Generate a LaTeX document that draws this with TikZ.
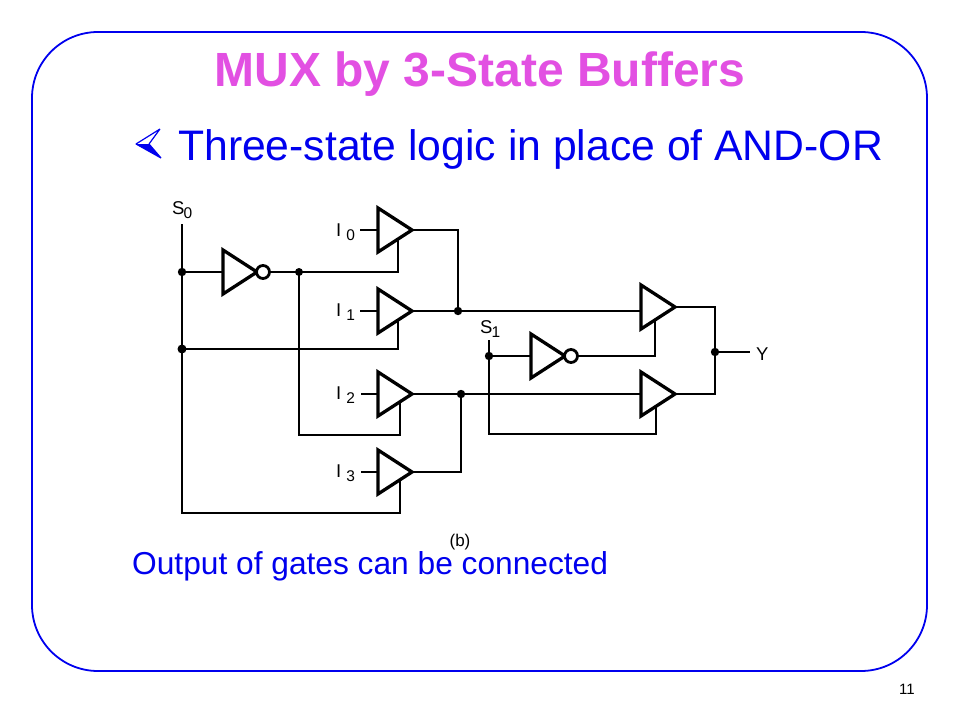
\documentclass[tikz,border=0pt]{standalone}
\usepackage{fontspec}
\setmainfont{Liberation Sans}
\usetikzlibrary{calc}
\definecolor{slideblue}{RGB}{0,0,238}
\definecolor{titlepink}{RGB}{226,80,226}
\tikzset{
  wire/.style={line width=2.1pt},
  gate/.style={line width=3.3pt,line join=miter,fill=white},
  bubble/.style={line width=2.8pt,fill=white},
  dot/.style={fill=black},
  sig/.style={font=\fontsize{18.5}{22}\selectfont,anchor=base west,inner sep=0pt},
  slide/.style={anchor=base west,inner sep=0pt,text=slideblue}
}
% left-middle corner of a gate is #1, its tip is (#1t), its control pin (#1c), #4 = pin offset
\newcommand{\bufgate}[4]{
  \coordinate (#1) at (#2,#3);
  \coordinate (#1t) at (#2+34,#3);
  \coordinate (#1c) at (#2+#4,#3+22-#4*0.647);
  \draw[gate] ($(#1)+(0,-22)$)--(#1t)--($(#1)+(0,22)$)--cycle;
}
\newcommand{\subsig}[1]{\raisebox{-4.5pt}{\fontsize{15.5}{18}\selectfont #1}}
\begin{document}
\begin{tikzpicture}[x=1pt,y=-1pt]
\useasboundingbox (0,0) rectangle (960,720);
\draw[slideblue,line width=1.8pt,rounded corners=66pt] (32,32) rectangle (927,671);
% text
\node[slide,anchor=base,text=titlepink,font=\fontsize{48}{56}\selectfont\bfseries] (title) at (480,86) {MUX by 3-State Buffers};
\node[slide,font=\fontsize{42.7}{50}\selectfont] (head) at (178,160) {Three-state logic in place of AND-OR};
\node[slide,font=\fontsize{31.7}{36}\selectfont] (note) at (132,574) {Output of gates can be connected};
\node[anchor=base,inner sep=0pt,font=\fontsize{17}{20}\selectfont] (bl) at (460,546) {(b)};
\node[anchor=base,inner sep=0pt,font=\fontsize{15}{18}\selectfont] (page) at (907,694) {11};
\coordinate (Ha) at (136,144);
\coordinate (Hb) at (160,129);
\coordinate (Hc) at (149,144);
\coordinate (Hd) at (161,158);
\fill[slideblue] (Ha)--(Hc)--(Hd)--cycle;
\draw[slideblue,line width=1.2pt,line join=bevel] (Ha)--(Hb)--(Hc)--(Hd)--cycle;
% gates
\bufgate{G0}{378}{230}{20}
\bufgate{G1}{378}{311}{20}
\bufgate{G2}{378}{394}{22}
\bufgate{G3}{378}{472}{22}
\bufgate{GA}{641}{307}{14}
\bufgate{GB}{641}{394}{15}
\bufgate{N0}{223}{272}{0}
\bufgate{N1}{531}{356}{0}
% junctions and bends
\coordinate (S0t) at (182,224);
\coordinate (S0a) at (182,272);
\coordinate (S0b) at (182,349);
\coordinate (S0e) at (182,513);
\coordinate (N0o) at (270,272);
\coordinate (NS) at (299,272);
\coordinate (NSe) at (299,435);
\coordinate (J1) at (458,311);
\coordinate (J2) at (461,394);
\coordinate (GAi) at (641,311);
\coordinate (S1t) at (489,340);
\coordinate (S1a) at (489,356);
\coordinate (S1e) at (489,434);
\coordinate (N1o) at (578,356);
\coordinate (JY) at (715,352);
\coordinate (Yo) at (750,352);
\coordinate (I0) at (360,230);
\coordinate (I1) at (360,311);
\coordinate (I2) at (361,394);
\coordinate (I3) at (361,472);
% wires
\draw[wire] (S0t)--(S0b)--(S0e)-|(G3c);
\draw[wire] (S0a)--(N0);
\draw[wire] (N0o)-|(G0c);
\draw[wire] (S0b)-|(G1c);
\draw[wire] (NS)--(NSe)-|(G2c);
\draw[wire] (I0)--(G0);
\draw[wire] (I1)--(G1);
\draw[wire] (I2)--(G2);
\draw[wire] (I3)--(G3);
\draw[wire] (G0t)-|(J1);
\draw[wire] (G1t)--(J1)--(GAi);
\draw[wire] (G2t)--(J2)--(GB);
\draw[wire] (G3t)-|(J2);
\draw[wire] (S1t)--(S1a)--(S1e)-|(GBc);
\draw[wire] (S1a)--(N1);
\draw[wire] (N1o)-|(GAc);
\draw[wire] (GAt)-|(JY);
\draw[wire] (GBt)-|(JY);
\draw[wire] (JY)--(Yo);
% bubbles and dots
\draw[bubble] (263,272) circle (6.5pt);
\draw[bubble] (571,356) circle (6.5pt);
\fill[dot] (S0a) circle (4.2pt);
\fill[dot] (S0b) circle (4.5pt);
\fill[dot] (NS) circle (4pt);
\fill[dot] (J1) circle (4.2pt);
\fill[dot] (J2) circle (4.2pt);
\fill[dot] (S1a) circle (4.2pt);
\fill[dot] (JY) circle (4.2pt);
% signal names
\node[sig] (s0) at (172,214) {S\hspace{-1pt}\subsig{0}};
\node[sig] (s1) at (480,333) {S\hspace{-1pt}\subsig{1}};
\node[sig] (i0) at (336,236) {I \subsig{0}};
\node[sig] (i1) at (336,316) {I \subsig{1}};
\node[sig] (i2) at (336,399) {I \subsig{2}};
\node[sig] (i3) at (336,477) {I \subsig{3}};
\node[sig] (y) at (756,360) {Y};
\end{tikzpicture}
\end{document}
